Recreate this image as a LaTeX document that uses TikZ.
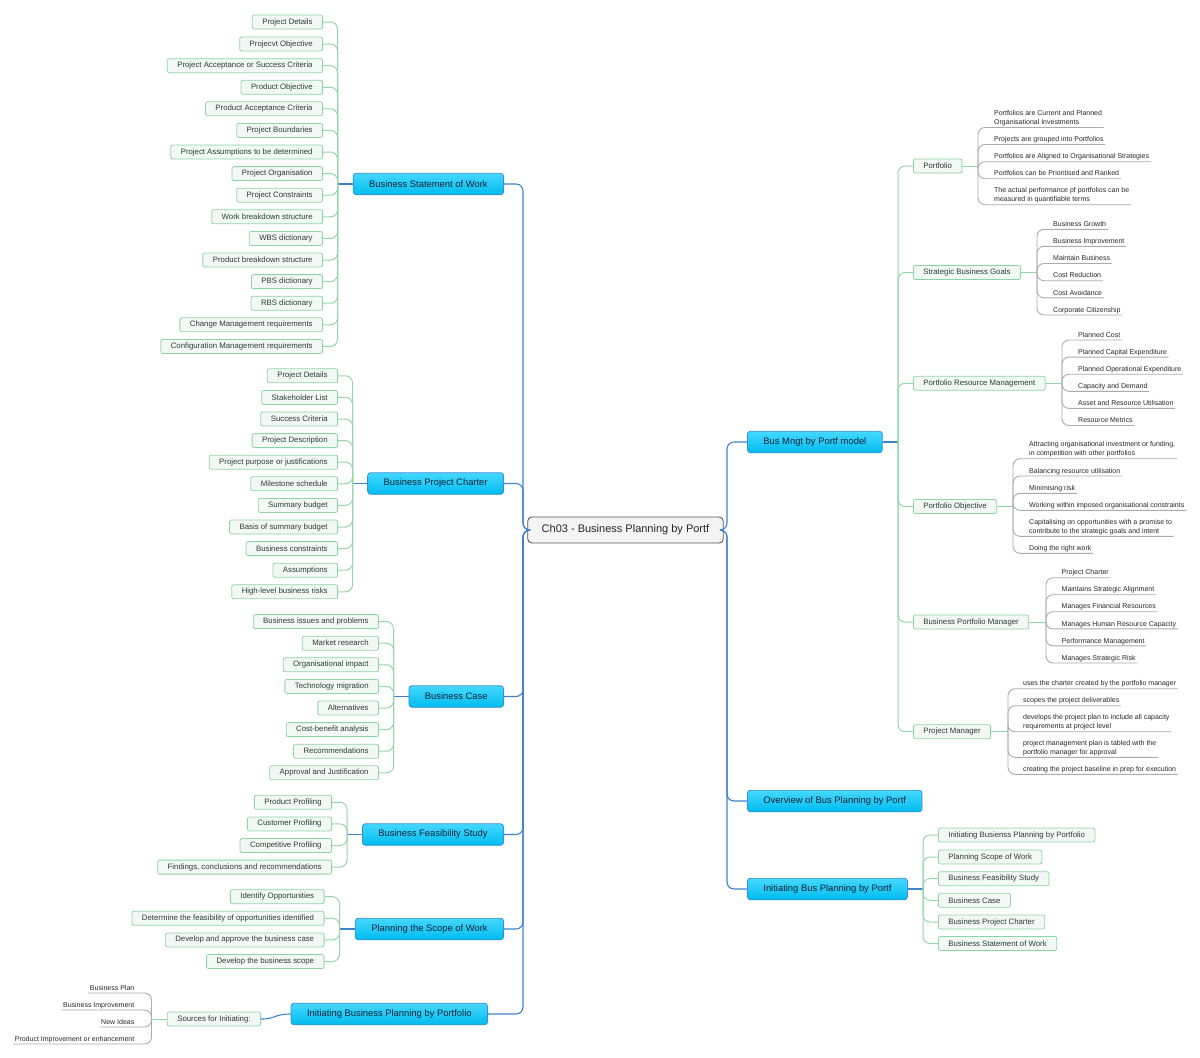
\documentclass[tikz,border=0pt]{standalone}
\usepackage{fontspec}
\setmainfont{Liberation Sans}
\usetikzlibrary{calc}
\definecolor{bborder}{HTML}{3A8ED6}
\definecolor{btop}{HTML}{45D8FF}
\definecolor{bbot}{HTML}{00BCEE}
\definecolor{btext}{HTML}{0E2438}
\definecolor{bline}{HTML}{3D83CC}
\definecolor{gborder}{HTML}{8ED5A6}
\definecolor{gfill}{HTML}{F2F8F4}
\definecolor{gtext}{HTML}{2E3B35}
\definecolor{gline}{HTML}{93D6AB}
\definecolor{lline}{HTML}{ABABAB}
\definecolor{ltext}{HTML}{262626}
\definecolor{cfill}{HTML}{F4F4F4}
\definecolor{cborder}{HTML}{555555}
\begin{document}
\begin{tikzpicture}[x=1pt,y=-1pt,
  cnode/.style={draw=cborder,fill=cfill,rounded corners=4pt,line width=0.9pt,
    font=\fontsize{11}{13}\selectfont,text=black!85,inner xsep=14pt,minimum height=26pt},
  bnode/.style={draw=bborder,top color=btop,bottom color=bbot,rounded corners=3pt,line width=0.8pt,
    font=\fontsize{9.4}{11}\selectfont,text=btext,inner xsep=16pt,minimum height=21.5pt},
  gbox/.style={draw=gborder,fill=gfill,rounded corners=2pt,line width=0.8pt,
    font=\fontsize{7.8}{9}\selectfont,text=gtext,inner xsep=10pt,inner ysep=2pt,minimum height=14pt},
  gleaf/.style={font=\fontsize{7}{9}\selectfont,text=ltext,inner xsep=1.5pt,inner ysep=0.8pt,
    text depth=1.8pt,align=left},
  bcon/.style={draw=bline,line width=1.1pt,rounded corners=7pt},
  gcon/.style={draw=gline,line width=1pt,rounded corners=7pt},
  lcon/.style={draw=lline,line width=0.9pt,rounded corners=7pt}]
\useasboundingbox (0,-1) rectangle (1200,1057);

% centre
\node[cnode] (c) at (625.5,529) {Ch03 - Business Planning by Portf};

% left main nodes
\node[bnode,anchor=east] (bsw) at (504,183) {Business Statement of Work};
\node[bnode,anchor=east] (bpc) at (504,482.5) {Business Project Charter};
\node[bnode,anchor=east] (bc) at (504,695.5) {Business Case};
\node[bnode,anchor=east] (bfs) at (504,833.5) {Business Feasibility Study};
\node[bnode,anchor=east] (psw) at (504,928) {Planning the Scope of Work};
\node[bnode,anchor=east] (ibp) at (488,1013) {Initiating Business Planning by Portfolio};

% right main nodes
\node[bnode,anchor=west] (bmp) at (747,441) {Bus Mngt by Portf model};
\node[bnode,anchor=west] (ovp) at (747,800) {Overview of Bus Planning by Portf};
\node[bnode,anchor=west] (ibr) at (747,888) {Initiating Bus Planning by Portf};

\coordinate (lt) at (523,529);
\coordinate (rt) at (727,529);
\foreach \n in {bsw,bpc,bc,bfs,psw,ibp} \draw[bcon] (c.west) -- (lt) |- (\n.east);
\foreach \n in {bmp,ovp,ibr} \draw[bcon] (c.east) -- (rt) |- (\n.west);

% ---- Business Statement of Work children
\coordinate (bswj) at (337.5,183);
\draw[bcon] (bsw.west) -- (bswj);
\foreach [count=\i] \y/\t in {21/Project Details,43/Projecvt Objective,64.7/Project Acceptance or Success Criteria,
  86.3/Product Objective,107.8/Product Acceptance Criteria,129.4/Project Boundaries,
  151/Project Assumptions to be determined,172.6/Project Organisation,194.2/Project Constraints,
  215.8/Work breakdown structure,237.4/WBS dictionary,259/Product breakdown structure,
  280.6/PBS dictionary,302.2/RBS dictionary,323.8/Change Management requirements,
  345.4/Configuration Management requirements}{
  \node[gbox,anchor=east] (bswc\i) at (323,\y) {\t};
  \draw[gcon] (bswj) |- (bswc\i.east);
}

% ---- Business Project Charter children
\coordinate (bpcj) at (352.5,482.5);
\draw[bcon] (bpc.west) -- (bpcj);
\foreach [count=\i] \y/\t in {374.8/Project Details,396.4/Stakeholder List,418/Success Criteria,
  439.6/Project Description,461.2/Project purpose or justifications,482.8/Milestone schedule,
  504.4/Summary budget,526/Basis of summary budget,547.6/Business constraints,
  569.2/Assumptions,590.8/High-level business risks}{
  \node[gbox,anchor=east] (bpcc\i) at (338,\y) {\t};
  \draw[gcon] (bpcj) |- (bpcc\i.east);
}

% ---- Business Case children
\coordinate (bcj) at (393.5,695.5);
\draw[bcon] (bc.west) -- (bcj);
\foreach [count=\i] \y/\t in {620.6/Business issues and problems,642.2/Market research,663.8/Organisational impact,
  685.4/Technology migration,707/Alternatives,728.6/Cost-benefit analysis,750.2/Recommendations,
  771.8/Approval and Justification}{
  \node[gbox,anchor=east] (bcc\i) at (379,\y) {\t};
  \draw[gcon] (bcj) |- (bcc\i.east);
}

% ---- Business Feasibility Study children
\coordinate (bfsj) at (347,833.5);
\draw[bcon] (bfs.west) -- (bfsj);
\foreach [count=\i] \y/\t in {801.3/Product Profiling,822.9/Customer Profiling,844.5/Competitive Profiling,
  866.1/{Findings, conclusions and recommendations}}{
  \node[gbox,anchor=east] (bfsc\i) at (332,\y) {\t};
  \draw[gcon] (bfsj) |- (bfsc\i.east);
}

% ---- Planning the Scope of Work children
\coordinate (pswj) at (339.5,928);
\draw[bcon] (psw.west) -- (pswj);
\foreach [count=\i] \y/\t in {895.7/Identify Opportunities,917.3/Determine the feasibility of opportunities identified,
  938.9/Develop and approve the business case,960.5/Develop the business scope}{
  \node[gbox,anchor=east] (pswc\i) at (324.5,\y) {\t};
  \draw[gcon] (pswj) |- (pswc\i.east);
}

% ---- Initiating Business Planning by Portfolio -> Sources
\node[gbox,anchor=east] (src) at (261,1018) {Sources for Initiating:};
\draw[bline,line width=1.1pt] (ibp.west) .. controls (274,1013) and (276,1018) .. (src.east);
\coordinate (srcj) at (151.5,1018);
\draw[gcon] (src.west) -- (srcj);
\foreach [count=\i] \y/\t in {992/Business Plan,1009/Business Improvement,1026/New Ideas,
  1043/Product Improvement or enhancement}{
  \node[gleaf,anchor=south east] (srcc\i) at (136,\y) {\t};
  \draw[lcon] (srcj) |- (srcc\i.south west);
}

% ---- Bus Mngt by Portf model children
\coordinate (bmpj) at (898,441);
\draw[bcon] (bmp.east) -- (bmpj);
\node[gbox,anchor=west] (pf) at (913,165) {Portfolio};
\node[gbox,anchor=west] (sbg) at (913,271.5) {Strategic Business Goals};
\node[gbox,anchor=west] (prm) at (913,382.3) {Portfolio Resource Management};
\node[gbox,anchor=west] (po) at (913,505.5) {Portfolio Objective};
\node[gbox,anchor=west] (bpm) at (913,621) {Business Portfolio Manager};
\node[gbox,anchor=west] (pm) at (913,730.7) {Project Manager};
\foreach \n in {pf,sbg,prm,po,bpm,pm} \draw[gcon] (bmpj) |- (\n.west);

% Portfolio leaves
\coordinate (pfj) at (978,165);
\draw[gcon] (pf.east) -- (pfj);
\foreach [count=\i] \y/\t in {126.5/{Portfolios are Current and Planned\\Organisational Investments},
  143.5/Projects are grouped into Portfolios,160.7/Portfolios are Aligned to Organisational Strategies,
  177.7/Portfolios can be Prioritised and Ranked,
  203.7/{The actual performance pf portfolios can be\\measured in quantifiable terms}}{
  \node[gleaf,anchor=south west] (pfc\i) at (992.5,\y) {\t};
  \draw[lcon] (pfj) |- (pfc\i.south east);
}

% Strategic Business Goals leaves
\coordinate (sbgj) at (1037,271.5);
\draw[gcon] (sbg.east) -- (sbgj);
\foreach [count=\i] \y/\t in {228.3/Business Growth,245.3/Business Improvement,262.5/Maintain Business,
  279.7/Cost Reduction,296.8/Cost Avoidance,314/Corporate Citizenship}{
  \node[gleaf,anchor=south west] (sbgc\i) at (1051.5,\y) {\t};
  \draw[lcon] (sbgj) |- (sbgc\i.south east);
}

% Portfolio Resource Management leaves
\coordinate (prmj) at (1062,382.3);
\draw[gcon] (prm.east) -- (prmj);
\foreach [count=\i] \y/\t in {339/Planned Cost,356.1/Planned Capital Expenditure,373.2/Planned Operational Expenditure,
  390.3/Capacity and Demand,407.4/Asset and Resource Utilisation,424.5/Resource Metrics}{
  \node[gleaf,anchor=south west] (prmc\i) at (1076.5,\y) {\t};
  \draw[lcon] (prmj) |- (prmc\i.south east);
}

% Portfolio Objective leaves
\coordinate (poj) at (1013,505.5);
\draw[gcon] (po.east) -- (poj);
\foreach [count=\i] \y/\t in {457.7/{Attracting organisational investment or funding,\\in competition with other portfolios},
  475/Balancing resource utilisation,492.3/Minimising risk,509.3/Working within imposed organisational constraints,
  535.3/{Capitalising on opportunities with a promise to\\contribute to the strategic goals and intent},
  552.3/Doing the right work}{
  \node[gleaf,anchor=south west] (poc\i) at (1027.5,\y) {\t};
  \draw[lcon] (poj) |- (poc\i.south east);
}

% Business Portfolio Manager leaves
\coordinate (bpmj) at (1046,621);
\draw[gcon] (bpm.east) -- (bpmj);
\foreach [count=\i] \y/\t in {576.7/Project Charter,593.7/Maintains Strategic Alignment,610.7/Manages Financial Resources,
  627.8/Manages Human Resource Capacity,644.9/Performance Management,662/Manages Strategic Risk}{
  \node[gleaf,anchor=south west] (bpmc\i) at (1060,\y) {\t};
  \draw[lcon] (bpmj) |- (bpmc\i.south east);
}

% Project Manager leaves
\coordinate (pmj) at (1008,730.7);
\draw[gcon] (pm.east) -- (pmj);
\foreach [count=\i] \y/\t in {687.7/uses the charter created by the portfolio manager,704.7/scopes the project deliverables,
  730.7/{develops the project plan to include all capacity\\requirements at project level},
  756.3/{project management plan is tabled with the\\portfolio manager for approval},
  773.3/creating the project baseline in prep for execution}{
  \node[gleaf,anchor=south west] (pmc\i) at (1021.5,\y) {\t};
  \draw[lcon] (pmj) |- (pmc\i.south east);
}

% ---- Initiating Bus Planning by Portf children
\coordinate (ibrj) at (923,888);
\draw[bcon] (ibr.east) -- (ibrj);
\foreach [count=\i] \y/\t in {834/Initiating Busienss Planning by Portfolio,856/Planning Scope of Work,
  877.7/Business Feasibility Study,899.3/Business Case,921/Business Project Charter,942.5/Business Statement of Work}{
  \node[gbox,anchor=west] (ibrc\i) at (938,\y) {\t};
  \draw[gcon] (ibrj) |- (ibrc\i.west);
}
\end{tikzpicture}
\end{document}
